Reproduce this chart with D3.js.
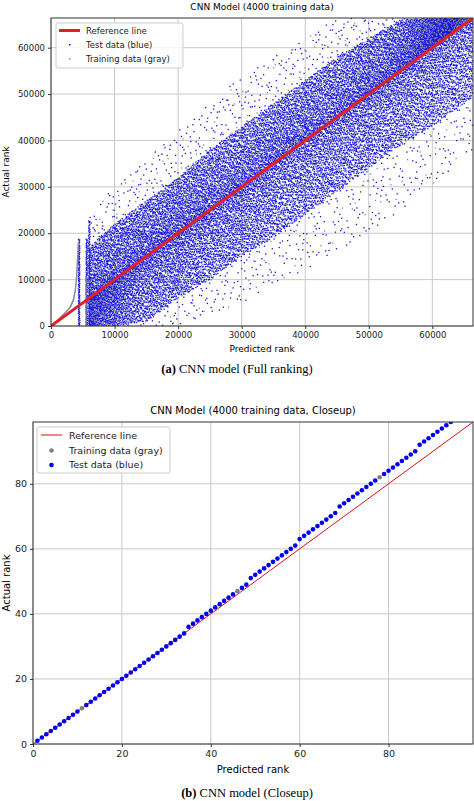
<!DOCTYPE html>
<html><head><meta charset="utf-8">
<script src="https://cdn.jsdelivr.net/npm/d3@7"></script>
<style>body{margin:0;background:#fff}svg{display:block}</style>
</head><body>
<svg id="c" width="474" height="801"></svg>
<script>
// ---- Panel (a): envelope, per predicted-rank bin ----
const aBins      = [6000, 10000, 15000, 20000, 25000, 30000, 35000, 40000, 45000, 50000, 55000, 60000, 65000];
const aDenseLow  = [0,    0,     1000,  6000,  10000, 15000, 19000, 24000, 29000, 34000, 39000, 43000, 48000];
const aDenseHigh = [17000,22000, 27000, 32000, 38000, 43000, 48000, 53000, 58000, 62000, 66000, 66400, 66400];
const aOuterLow  = [0,    0,     0,     0,     2000,  5000,  9000,  12000, 16000, 20000, 25000, 30000, 36000];
const aOuterHigh = [24000,30000, 36000, 42000, 48000, 54000, 58000, 62000, 66400, 66400, 66400, 66400, 66400];
const aStreakX   = [4300, 5500, 5900];
const aStreakTop = [19000, 19000, 23000];
const grayCurveX = [0, 1000, 2000, 3000, 3500, 3800, 4000, 4100, 4200, 4300];
const grayCurveY = [0, 1200, 2500, 4000, 5500, 7500, 10000, 12500, 15000, 18000];
const aTicks = [0,10000,20000,30000,40000,50000,60000];
// ---- Panel (b) ----
const bPred   = d3.range(1, 96);
const bOffset = bPred.map(x => x<35?0 : x<49?1 : x<60?2 : x<69?3 : x<87?4 : 5); // read offsets
const bGrayX  = [11, 46, 78];
const bTicks  = [0,20,40,60,80];

const svg = d3.select("#c");
const FONT = "DejaVu Sans, sans-serif";

function frame(g, x, y, ticks) {
  g.append("g").selectAll("line").data(ticks).join("line")
   .attr("x1",d=>x(d)).attr("x2",d=>x(d)).attr("y1",y.range()[0]).attr("y2",y.range()[1])
   .attr("stroke","#c8c8c8").attr("stroke-width",1);
  g.append("g").selectAll("line").data(ticks).join("line")
   .attr("y1",d=>y(d)).attr("y2",d=>y(d)).attr("x1",x.range()[0]).attr("x2",x.range()[1])
   .attr("stroke","#c8c8c8").attr("stroke-width",1);
}
function axes(g, x, y, ticks, fs) {
  const xa = g.append("g").attr("transform",`translate(0,${y.range()[0]})`)
    .call(d3.axisBottom(x).tickValues(ticks).tickSize(3).tickFormat(d3.format("d")));
  const ya = g.append("g").attr("transform",`translate(${x.range()[0]},0)`)
    .call(d3.axisLeft(y).tickValues(ticks).tickSize(3).tickFormat(d3.format("d")));
  [xa,ya].forEach(a=>{a.select(".domain").remove();a.selectAll("text").attr("font-family",FONT).attr("font-size",fs).attr("fill","#222");a.selectAll("line").attr("stroke","#333");});
  g.append("rect").attr("x",x.range()[0]).attr("y",y.range()[1])
   .attr("width",x.range()[1]-x.range()[0]).attr("height",y.range()[0]-y.range()[1])
   .attr("fill","none").attr("stroke","#333").attr("stroke-width",1);
}
function halton(i,b){let f=1,r=0;while(i>0){f/=b;r+=f*(i%b);i=Math.floor(i/b);}return r;}

// ===== Panel a =====
const xa = d3.scaleLinear().domain([0,66400]).range([51,473]);
const ya = d3.scaleLinear().domain([0,66400]).range([326,18]);
const ga = svg.append("g");
frame(ga, xa, ya, aTicks);
ga.append("defs").append("clipPath").attr("id","ca").append("rect")
  .attr("x",51).attr("y",18).attr("width",422).attr("height",308);
const pa = ga.append("g").attr("clip-path","url(#ca)");
const blue=[], gray=[];
const lo = d3.scaleLinear().domain(aBins);
const dL=lo.copy().range(aDenseLow), dH=lo.copy().range(aDenseHigh), oL=lo.copy().range(aOuterLow), oH=lo.copy().range(aOuterHigh);
const N=22000;
for(let i=1;i<=N;i++){
  const u=halton(i,2), v=halton(i,3), w=halton(i,5);
  const px=aBins[0]+u*(66400-aBins[0]);
  let lowv,highv;
  if(w<0.88){lowv=dL(px);highv=dH(px);}else{lowv=oL(px);highv=oH(px);}
  const mid=Math.min(Math.max(px,lowv),highv);
  const t=v*2-1, s=Math.sign(t)*Math.pow(Math.abs(t),1.2);
  const py= s<0 ? mid+s*(mid-lowv) : mid+s*(highv-mid);
  if(halton(i,7)<0.12) gray.push([px,py]); else blue.push([px,py]);
}
aStreakX.forEach((sx,k)=>{ for(let j=1;j<=110;j++){ blue.push([sx+halton(j,3)*250, halton(j,2)*aStreakTop[k]]); } });
grayCurveX.forEach((cx,k)=>{ if(k===0) return; const x0=grayCurveX[k-1],y0=grayCurveY[k-1];
  for(let j=0;j<14;j++){const f=j/14; gray.push([x0+f*(cx-x0), y0+f*(grayCurveY[k]-y0)]);} });
for(let j=1;j<=40;j++) gray.push([5500, halton(j,2)*11000]);
pa.selectAll(".b").data(blue).join("rect").attr("x",d=>xa(d[0])-0.65).attr("y",d=>ya(d[1])-0.65)
  .attr("width",1.3).attr("height",1.3).attr("fill","#1414d8");
pa.selectAll(".g").data(gray).join("rect").attr("x",d=>xa(d[0])-0.65).attr("y",d=>ya(d[1])-0.65)
  .attr("width",1.3).attr("height",1.3).attr("fill","#8a8a9a");
pa.append("line").attr("x1",xa(0)).attr("y1",ya(0)).attr("x2",xa(66400)).attr("y2",ya(66400))
  .attr("stroke","#e0202a").attr("stroke-width",3);
axes(ga, xa, ya, aTicks, 8.5);
ga.append("text").attr("x",262).attr("y",10).attr("text-anchor","middle").attr("font-family",FONT).attr("font-size",9).text("CNN Model (4000 training data)");
ga.append("text").attr("x",262).attr("y",352).attr("text-anchor","middle").attr("font-family",FONT).attr("font-size",9).text("Predicted rank");
ga.append("text").attr("transform","translate(9,172) rotate(-90)").attr("text-anchor","middle").attr("font-family",FONT).attr("font-size",9).text("Actual rank");
const la=ga.append("g");
la.append("rect").attr("x",56).attr("y",23).attr("width",127).attr("height",45).attr("rx",2).attr("fill","#fff").attr("fill-opacity",0.85).attr("stroke","#ccc");
la.append("line").attr("x1",59).attr("x2",80).attr("y1",30.5).attr("y2",30.5).attr("stroke","#e0202a").attr("stroke-width",3);
la.append("rect").attr("x",69).attr("y",44).attr("width",1.5).attr("height",1.5).attr("fill","#1010d8");
la.append("rect").attr("x",69).attr("y",58).attr("width",1.5).attr("height",1.5).attr("fill","#8a8a9a");
[["Reference line",34],["Test data (blue)",48],["Training data (gray)",62]].forEach(([t,yy])=>
  la.append("text").attr("x",86).attr("y",yy).attr("font-family",FONT).attr("font-size",8.5).attr("fill","#222").text(t));
const ca=svg.append("text").attr("x",237).attr("y",373).attr("text-anchor","middle").attr("font-family","Liberation Serif, serif").attr("font-size",12.5);
ca.append("tspan").attr("font-weight","bold").text("(a)"); ca.append("tspan").text(" CNN model (Full ranking)");

// ===== Panel b =====
const xb = d3.scaleLinear().domain([0,99]).range([33,473]);
const yb = d3.scaleLinear().domain([0,99]).range([744,422]);
const gb = svg.append("g");
frame(gb, xb, yb, bTicks);
gb.append("line").attr("x1",xb(0)).attr("y1",yb(0)).attr("x2",xb(99)).attr("y2",yb(99)).attr("stroke","#e01010").attr("stroke-width",1);
gb.append("defs").append("clipPath").attr("id","cb").append("rect").attr("x",33).attr("y",422).attr("width",440).attr("height",322);
const pb=gb.append("g").attr("clip-path","url(#cb)");
pb.selectAll("circle").data(bPred.map((x,i)=>[x,x+bOffset[i]])).join("circle")
  .attr("cx",d=>xb(d[0])).attr("cy",d=>yb(d[1])).attr("r",2.3)
  .attr("fill",d=>bGrayX.includes(d[0])?"#808080":"#0000ee");
axes(gb, xb, yb, bTicks, 9.5);
gb.append("text").attr("x",253).attr("y",414).attr("text-anchor","middle").attr("font-family",FONT).attr("font-size",10).text("CNN Model (4000 training data, Closeup)");
gb.append("text").attr("x",253).attr("y",773).attr("text-anchor","middle").attr("font-family",FONT).attr("font-size",10).text("Predicted rank");
gb.append("text").attr("transform","translate(10,583) rotate(-90)").attr("text-anchor","middle").attr("font-family",FONT).attr("font-size",10).text("Actual rank");
const lb=gb.append("g");
lb.append("rect").attr("x",37).attr("y",427).attr("width",133).attr("height",46).attr("rx",2).attr("fill","#fff").attr("stroke","#ccc");
lb.append("line").attr("x1",41).attr("x2",62).attr("y1",435).attr("y2",435).attr("stroke","#e01010").attr("stroke-width",1);
lb.append("circle").attr("cx",51.5).attr("cy",450.5).attr("r",2.3).attr("fill","#808080");
lb.append("circle").attr("cx",51.5).attr("cy",465).attr("r",2.3).attr("fill","#0000ee");
[["Reference line",439],["Training data (gray)",453.5],["Test data (blue)",468]].forEach(([t,yy])=>
  lb.append("text").attr("x",69).attr("y",yy).attr("font-family",FONT).attr("font-size",9.5).attr("fill","#222").text(t));
const cb=svg.append("text").attr("x",247).attr("y",797).attr("text-anchor","middle").attr("font-family","Liberation Serif, serif").attr("font-size",12.5);
cb.append("tspan").attr("font-weight","bold").text("(b)"); cb.append("tspan").text(" CNN model (Closeup)");
</script>
</body></html>
